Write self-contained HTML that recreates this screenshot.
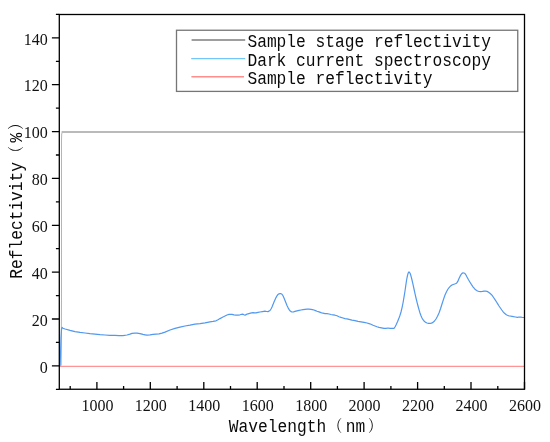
<!DOCTYPE html>
<html lang="en"><head><meta charset="utf-8"><title>Reflectivity spectrum</title>
<style>html,body{margin:0;padding:0;background:#fff}svg{display:block}.tk{font-family:"Liberation Serif",serif;font-size:16px;fill:#111}.mono{font-family:"Liberation Mono","Noto Serif CJK SC",monospace;font-size:19.2px;fill:#0a0a0a}</style></head><body>
<svg width="550" height="442" viewBox="0 0 550 442">
<rect width="550" height="442" fill="#fff"/>
<path d="M61.2,365.6 L61.5,300 L61.5,140 L61.7,134 L62.4,132.2" fill="none" stroke="#b4b4b4" stroke-width="1" stroke-linejoin="round"/>
<line x1="61.6" y1="132" x2="524.5" y2="132" stroke="#bababa" stroke-width="2"/>
<line x1="59.3" y1="366.3" x2="524.5" y2="366.3" stroke="#ff9494" stroke-width="1.3"/>
<path d="M60.1,365.6 L60.6,352.0 L61.0,338.0 L61.5,329.5 L62.0,327.4 L63.0,328.2 L65.0,329.0 L70.0,330.4 L75.0,331.6 L80.0,332.4 L85.0,333.0 L90.0,333.7 L95.0,334.2 L100.0,334.7 L105.0,335.0 L110.0,335.3 L115.0,335.4 L119.0,335.7 L123.0,335.6 L127.0,335.0 L130.0,334.1 L132.0,333.4 L135.0,333.1 L137.0,333.2 L140.0,333.7 L143.0,334.4 L145.0,334.8 L147.0,335.2 L150.0,334.9 L153.0,334.4 L156.0,334.1 L159.0,333.8 L162.0,333.1 L165.0,332.1 L170.0,330.0 L175.0,328.4 L180.0,327.2 L185.0,326.0 L190.0,325.2 L195.0,324.2 L200.0,323.6 L205.0,322.8 L210.0,321.8 L213.0,321.4 L216.0,320.8 L218.0,319.8 L220.0,318.6 L222.5,317.3 L225.0,316.0 L227.0,315.0 L229.0,314.4 L232.0,314.4 L234.0,314.9 L236.0,315.2 L238.0,315.1 L240.0,314.8 L241.5,314.3 L243.0,314.2 L244.0,314.8 L245.0,315.2 L246.5,314.4 L248.0,313.8 L250.5,313.1 L253.0,312.6 L254.5,312.9 L256.0,312.8 L258.0,312.3 L260.0,312.0 L262.5,311.6 L265.0,311.2 L266.5,311.5 L268.0,311.6 L270.0,310.5 L271.0,309.0 L272.0,307.0 L273.0,304.6 L274.0,302.0 L275.0,299.7 L276.0,297.6 L277.0,295.8 L278.0,294.4 L279.0,293.8 L280.0,293.6 L281.0,293.7 L282.0,294.2 L283.0,295.8 L284.0,298.0 L285.0,300.5 L286.0,303.0 L287.0,305.4 L288.0,307.6 L289.0,309.4 L290.0,310.8 L291.0,311.6 L292.0,312.0 L293.5,311.8 L295.0,311.4 L297.0,310.9 L299.0,310.4 L301.0,310.0 L303.0,309.6 L305.0,309.3 L307.0,309.2 L309.0,309.2 L311.0,309.4 L312.5,309.6 L314.0,310.0 L315.5,310.6 L317.0,311.2 L319.0,311.9 L321.0,312.6 L323.0,313.2 L325.0,313.6 L327.0,313.7 L329.0,314.0 L331.0,314.5 L333.0,314.8 L335.0,315.2 L337.0,315.8 L339.0,316.7 L341.0,317.4 L343.0,318.0 L345.0,318.6 L347.0,318.9 L349.0,319.4 L352.0,320.1 L355.0,320.6 L358.0,321.3 L361.0,321.8 L364.0,322.4 L367.0,323.0 L369.0,323.6 L371.0,324.2 L373.0,325.2 L375.0,326.0 L377.0,326.8 L379.0,327.4 L381.5,327.9 L384.0,328.4 L386.0,328.3 L388.0,328.0 L390.0,328.3 L392.0,328.4 L394.0,328.3 L395.0,327.0 L396.0,325.0 L397.5,321.8 L399.0,318.0 L400.0,315.2 L401.0,312.0 L402.0,307.8 L403.0,303.0 L404.0,297.2 L405.0,291.0 L405.8,285.4 L406.6,280.0 L407.3,276.4 L408.0,273.6 L408.6,272.2 L409.0,271.9 L409.6,272.4 L410.4,274.0 L411.2,276.8 L412.0,280.0 L413.0,284.4 L414.0,289.0 L415.0,293.6 L416.0,298.0 L417.0,302.1 L418.0,306.0 L419.0,309.6 L420.0,313.0 L421.0,315.7 L422.0,318.0 L423.0,319.7 L424.0,321.0 L425.5,322.2 L427.0,323.0 L428.5,323.3 L430.0,323.4 L431.5,323.1 L433.0,322.4 L434.5,321.0 L436.0,319.0 L437.5,316.2 L439.0,313.0 L440.5,308.7 L442.0,304.0 L443.5,299.4 L445.0,295.0 L446.5,291.8 L448.0,289.0 L449.5,287.1 L451.0,285.6 L452.5,284.8 L454.0,284.2 L455.3,283.8 L456.6,283.2 L457.8,281.4 L459.0,278.6 L460.0,276.4 L461.0,274.6 L462.0,273.4 L463.0,272.9 L464.0,273.0 L465.0,273.6 L466.0,275.0 L467.0,277.0 L468.5,279.7 L470.0,282.2 L471.5,284.6 L473.0,286.8 L474.5,288.7 L476.0,290.1 L477.5,291.0 L479.0,291.5 L480.5,291.6 L482.5,291.4 L484.0,291.1 L485.5,291.0 L487.0,291.4 L488.2,292.0 L489.6,293.0 L491.0,294.2 L492.3,295.7 L493.6,297.5 L495.0,299.6 L496.4,301.8 L497.7,303.9 L499.0,306.0 L500.4,308.0 L501.8,310.0 L503.2,311.8 L504.5,313.3 L506.0,314.5 L507.3,315.3 L508.7,315.8 L510.0,316.0 L512.0,316.4 L513.6,316.7 L515.5,317.0 L517.3,317.3 L519.0,317.0 L521.0,317.2 L522.5,317.5 L524.2,317.5" fill="none" stroke="#5198ef" stroke-width="1.2" stroke-linejoin="round" stroke-linecap="round"/>
<g stroke="#000" stroke-width="1.3" fill="none">
<rect x="59.3" y="14.5" width="465.2" height="374.75"/>
<path d="M55.9,389.3H59.3M51.9,365.9H59.3M55.9,342.4H59.3M51.9,319.0H59.3M55.9,295.6H59.3M51.9,272.1H59.3M55.9,248.7H59.3M51.9,225.3H59.3M55.9,201.9H59.3M51.9,178.4H59.3M55.9,155.0H59.3M51.9,131.6H59.3M55.9,108.1H59.3M51.9,84.7H59.3M55.9,61.3H59.3M51.9,37.8H59.3M55.9,14.4H59.3M70.2,389.25V385.9M96.9,389.25V381.9M123.6,389.25V385.9M150.3,389.25V381.9M177.1,389.25V385.9M203.8,389.25V381.9M230.5,389.25V385.9M257.2,389.25V381.9M284.0,389.25V385.9M310.7,389.25V381.9M337.4,389.25V385.9M364.1,389.25V381.9M390.9,389.25V385.9M417.6,389.25V381.9M444.3,389.25V385.9M471.0,389.25V381.9M497.8,389.25V385.9M524.5,389.25V381.9"/>
</g>
<g class="tk" text-anchor="end">
<text x="47.8" y="372.6">0</text>
<text x="47.8" y="325.7">20</text>
<text x="47.8" y="278.8">40</text>
<text x="47.8" y="232.0">60</text>
<text x="47.8" y="185.1">80</text>
<text x="47.8" y="138.3">100</text>
<text x="47.8" y="91.4">120</text>
<text x="47.8" y="44.5">140</text>
</g>
<g class="tk" text-anchor="middle">
<text x="97.4" y="410.9">1000</text>
<text x="150.8" y="410.9">1200</text>
<text x="204.3" y="410.9">1400</text>
<text x="257.8" y="410.9">1600</text>
<text x="311.2" y="410.9">1800</text>
<text x="364.6" y="410.9">2000</text>
<text x="418.1" y="410.9">2200</text>
<text x="471.5" y="410.9">2400</text>
<text x="525.0" y="410.9">2600</text>
</g>
<text class="mono" transform="translate(228.8,432.2) scale(0.8464,1)"><tspan dx="0.00" dy="0.0">Wavelength</tspan><tspan font-size="16.2" dx="2.68" dy="-0.9">（</tspan><tspan dx="4.16" dy="0.9">nm</tspan><tspan font-size="16.2" dx="3.41" dy="-0.9">）</tspan></text>
<text class="mono" transform="translate(21.6,278.8) rotate(-90) scale(0.8464,1)"><tspan dx="0.00" dy="0.0">Reflectivity</tspan><tspan font-size="16.2" dx="2.68" dy="-0.9">（</tspan><tspan dx="4.16" dy="0.9">%</tspan><tspan font-size="16.2" dx="3.41" dy="-0.9">）</tspan></text>
<rect x="176.5" y="30.25" width="341.25" height="61.15" fill="#fff" stroke="#767676" stroke-width="1.3"/>
<line x1="191.6" y1="40" x2="245.2" y2="40" stroke="#9e9e9e" stroke-width="2"/>
<line x1="191.2" y1="58.65" x2="245.2" y2="58.65" stroke="#74c6fa" stroke-width="1.3"/>
<line x1="191.4" y1="76.75" x2="244" y2="76.75" stroke="#ff8e8c" stroke-width="1.5"/>
<text class="mono" transform="translate(247.4,47.3) scale(0.8464,1)">Sample stage reflectivity</text>
<text class="mono" transform="translate(247.4,66.2) scale(0.8464,1)">Dark current spectroscopy</text>
<text class="mono" transform="translate(247.4,84.1) scale(0.8464,1)">Sample reflectivity</text>
</svg></body></html>
